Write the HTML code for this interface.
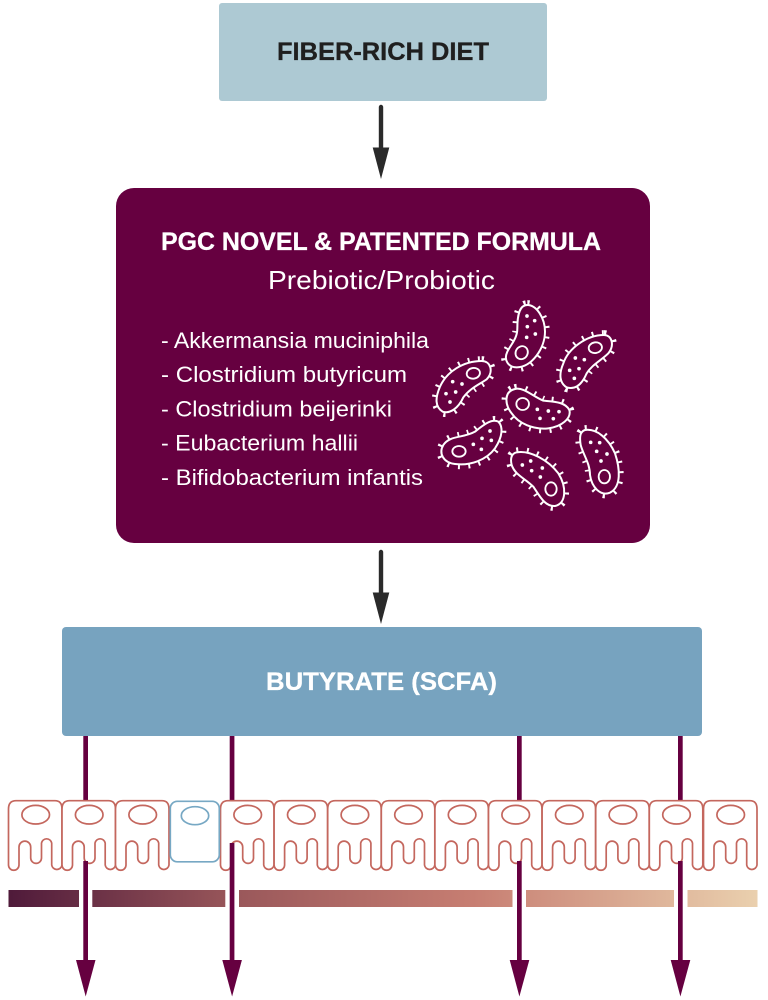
<!DOCTYPE html>
<html><head><meta charset="utf-8">
<style>html,body{margin:0;padding:0;background:#fff;width:768px;height:1000px;overflow:hidden}svg{display:block}text{font-family:"Liberation Sans",sans-serif}</style>
</head><body>
<svg width="768" height="1000" viewBox="0 0 768 1000" xmlns="http://www.w3.org/2000/svg">
<defs>
<linearGradient id="g" gradientUnits="userSpaceOnUse" x1="8" y1="0" x2="758" y2="0">
<stop offset="0" stop-color="#4f1a3a"/><stop offset="0.3" stop-color="#99575a"/><stop offset="0.62" stop-color="#c77e72"/><stop offset="1" stop-color="#ead0ae"/>
</linearGradient>
<g id="cell">
<path d="M8.5 809Q8.5 800.7 16 800.7H55Q62 800.7 62 809V865A5.2 5.2 0 0 1 51.7 865V843A5.2 5.2 0 0 0 41.5 843V858A5.4 5.4 0 0 1 30.7 858V847A5.8 5.8 0 0 0 19 847V865A5.2 5.2 0 0 1 8.5 865Z" fill="#fff" stroke="#c4675e" stroke-width="1.7"/>
<ellipse cx="35.7" cy="814.7" rx="13.8" ry="9.3" fill="#fff" stroke="#c4675e" stroke-width="1.7"/>
</g>
<path id="b1" d="M322 45C350 45 375 85 375 125C375 175 335 232 290 232C265 232 250 210 262 185C275 160 292 145 292 115C292 85 295 45 322 45Z"/>
<path id="b2" d="M552 135C575 135 585 165 565 190C545 210 515 225 500 250C485 285 465 300 440 292C420 280 415 255 430 220C445 175 500 135 552 135Z"/>
<path id="b3" d="M185 213C212 213 222 245 200 268C175 285 150 295 130 322C115 355 90 372 68 365C45 350 45 325 60 290C80 245 130 213 185 213Z"/>
<path id="b4" d="M285 297C310 290 340 320 370 332C400 335 435 335 448 360C455 385 425 410 385 415C340 420 295 400 275 370C255 345 250 305 285 297Z"/>
<path id="b5" d="M235 395C250 410 248 440 225 475C200 510 150 528 105 522C70 518 55 490 70 465C90 435 130 445 165 425C190 405 215 385 235 395Z"/>
<path id="b6" d="M290 487C330 480 385 510 415 550C440 590 440 640 405 648C375 650 360 620 340 590C315 565 285 555 275 525C270 505 275 490 290 487Z"/>
<path id="b7" d="M495 420C530 415 565 445 585 490C600 535 605 590 570 608C540 620 515 590 510 555C510 520 490 495 482 465C478 440 480 425 495 420Z"/>
</defs>

<rect x="219" y="3" width="328" height="98" rx="3" fill="#adc9d3"/>
<text x="277" y="60" font-size="25" font-weight="700" fill="#1f1f1f" stroke="#1f1f1f" stroke-width=".3" textLength="212" lengthAdjust="spacingAndGlyphs">FIBER-RICH DIET</text>
<path d="M381 107V150" stroke="#2a2a2a" stroke-width="4.4" stroke-linecap="round"/>
<path d="M372.7 147.5H389.3L381 179Z" fill="#2a2a2a"/>

<rect x="116" y="188" width="534" height="355" rx="18" fill="#660040"/>
<text x="161" y="250" font-size="25" font-weight="700" fill="#fff" stroke="#fff" stroke-width=".3" textLength="440" lengthAdjust="spacingAndGlyphs">PGC NOVEL &amp; PATENTED FORMULA</text>
<text x="268" y="289" font-size="26" fill="#fff" textLength="227" lengthAdjust="spacingAndGlyphs">Prebiotic/Probiotic</text>
<g font-size="22" fill="#fff">
<text x="161" y="348" textLength="268" lengthAdjust="spacingAndGlyphs">- Akkermansia muciniphila</text>
<text x="161" y="382" textLength="246" lengthAdjust="spacingAndGlyphs">- Clostridium butyricum</text>
<text x="161" y="416.5" textLength="231" lengthAdjust="spacingAndGlyphs">- Clostridium beijerinki</text>
<text x="161" y="450.5" textLength="197" lengthAdjust="spacingAndGlyphs">- Eubacterium hallii</text>
<text x="161" y="485" textLength="262" lengthAdjust="spacingAndGlyphs">- Bifidobacterium infantis</text>
</g>

<g transform="translate(420 290) scale(.33333)">
<g fill="none" stroke="#fff" stroke-width="29" stroke-dasharray="5.5 24">
<use href="#b1"/><use href="#b2"/><use href="#b3"/><use href="#b4"/><use href="#b5"/><use href="#b6"/><use href="#b7"/>
</g>
<g fill="#660040" stroke="#fff" stroke-width="6">
<use href="#b1"/><use href="#b2"/><use href="#b3"/><use href="#b4"/><use href="#b5"/><use href="#b6"/><use href="#b7"/>
</g>
<g fill="none" stroke="#fff" stroke-width="5.5">
<ellipse cx="305" cy="188" rx="18" ry="20" transform="rotate(30 305 188)"/>
<ellipse cx="526" cy="173" rx="20" ry="16" transform="rotate(-10 526 173)"/>
<ellipse cx="160" cy="250" rx="20" ry="16" transform="rotate(-10 160 250)"/>
<ellipse cx="308" cy="342" rx="19" ry="18"/>
<ellipse cx="117" cy="484" rx="20" ry="16"/>
<ellipse cx="393" cy="597" rx="17" ry="20"/>
<ellipse cx="553" cy="560" rx="17" ry="20"/>
</g>
<g fill="#fff">
<circle cx="321" cy="78" r="5.5"/><circle cx="344" cy="92" r="5.5"/><circle cx="322" cy="110" r="5.5"/><circle cx="346" cy="132" r="5.5"/><circle cx="320" cy="142" r="5.5"/>
<circle cx="466" cy="204" r="5.5"/><circle cx="493" cy="209" r="5.5"/><circle cx="449" cy="241" r="5.5"/><circle cx="477" cy="236" r="5.5"/><circle cx="463" cy="265" r="5.5"/>
<circle cx="98" cy="275" r="5.5"/><circle cx="126" cy="282" r="5.5"/><circle cx="78" cy="311" r="5.5"/><circle cx="107" cy="306" r="5.5"/><circle cx="90" cy="336" r="5.5"/>
<circle cx="352" cy="358" r="5.5"/><circle cx="385" cy="363" r="5.5"/><circle cx="417" cy="365" r="5.5"/><circle cx="360" cy="385" r="5.5"/><circle cx="400" cy="386" r="5.5"/>
<circle cx="210" cy="423" r="5.5"/><circle cx="186" cy="445" r="5.5"/><circle cx="214" cy="451" r="5.5"/><circle cx="160" cy="463" r="5.5"/><circle cx="184" cy="478" r="5.5"/>
<circle cx="307" cy="525" r="5.5"/><circle cx="332" cy="513" r="5.5"/><circle cx="335" cy="542" r="5.5"/><circle cx="367" cy="534" r="5.5"/><circle cx="361" cy="561" r="5.5"/>
<circle cx="512" cy="457" r="5.5"/><circle cx="539" cy="458" r="5.5"/><circle cx="530" cy="484" r="5.5"/><circle cx="561" cy="492" r="5.5"/><circle cx="543" cy="513" r="5.5"/>
</g>
</g>

<path d="M381 552V595" stroke="#2a2a2a" stroke-width="4.4" stroke-linecap="round"/>
<path d="M372.7 592.5H389.3L381 624Z" fill="#2a2a2a"/>

<rect x="62" y="627" width="640" height="109" rx="4" fill="#77a3bf"/>
<text x="266" y="690" font-size="25" font-weight="700" fill="#fff" stroke="#fff" stroke-width=".3" textLength="231" lengthAdjust="spacingAndGlyphs">BUTYRATE (SCFA)</text>

<g fill="#660040">
<rect x="83.3" y="736" width="4.7" height="65"/><rect x="229.7" y="736" width="4.7" height="65"/><rect x="517" y="736" width="4.7" height="65"/><rect x="678" y="736" width="4.7" height="65"/>
</g>

<g>
<use href="#cell"/>
<use href="#cell" x="53.5"/>
<use href="#cell" x="107"/>
<use href="#cell" x="212"/>
<use href="#cell" x="265.6"/>
<use href="#cell" x="319.2"/>
<use href="#cell" x="372.8"/>
<use href="#cell" x="426.4"/>
<use href="#cell" x="480"/>
<use href="#cell" x="533.6"/>
<use href="#cell" x="587.2"/>
<use href="#cell" x="640.8"/>
<use href="#cell" x="695"/>
</g>
<rect x="170.3" y="801.3" width="49" height="60.5" rx="7" fill="#fff" stroke="#77a8c4" stroke-width="1.7"/>
<ellipse cx="195" cy="815.7" rx="13.7" ry="9" fill="#fff" stroke="#77a8c4" stroke-width="1.7"/>

<g fill="url(#g)">
<rect x="8.5" y="890" width="70.5" height="17"/>
<rect x="92.3" y="890" width="133" height="17"/>
<rect x="239" y="890" width="273.5" height="17"/>
<rect x="526" y="890" width="148" height="17"/>
<rect x="687.5" y="890" width="70" height="17"/>
</g>

<g fill="#660040">
<rect x="83.3" y="861" width="4.7" height="102"/>
<path d="M76 960H95.5L85.7 996.5Z"/>
<rect x="229.7" y="843" width="4.7" height="120"/>
<path d="M222.3 960H241.9L232.1 996.5Z"/>
<rect x="517" y="861" width="4.7" height="102"/>
<path d="M509.7 960H529.3L519.4 996.5Z"/>
<rect x="678" y="861" width="4.7" height="102"/>
<path d="M670.7 960H690.3L680.4 996.5Z"/>
</g>
</svg>
</body></html>
